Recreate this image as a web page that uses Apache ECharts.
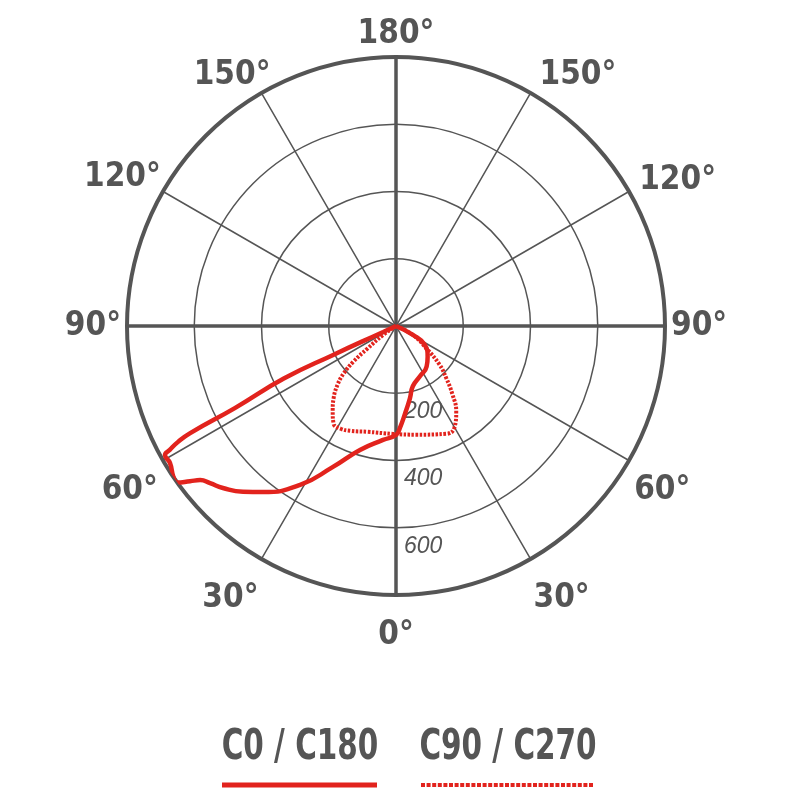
<!DOCTYPE html>
<html>
<head>
<meta charset="utf-8">
<script src="https://cdn.jsdelivr.net/npm/echarts@6/dist/echarts.min.js"></script>
<style>
  html, body { margin: 0; padding: 0; background: #fff; }
  #chart { width: 800px; height: 800px; }
</style>
</head>
<body>
<div id="chart"></div>
<script>
// gamma angle (deg) + intensity, listed along the drawn path
// C0 plane - left half, solid
const c0Gamma = [90, 65.2, 65.3, 64.9, 63.0, 62.5, 62.0, 61.3, 60.8, 58.8, 55.8, 54.4, 53.0, 51.8, 49.8, 46.9, 42.7, 38.7, 31.1, 24.1, 16.2, 6.5, 0];
const c0Intensity = [0, 42, 204, 367, 538, 690, 734, 767, 787, 786, 800, 800, 767, 741, 724, 705, 671, 633, 552, 459, 384, 341, 324];
// C180 plane - right half, solid
const c180Gamma = [2.2, 5.8, 10.9, 15.6, 25.2, 37.1, 45.9, 56.8, 62.1, 90];
const c180Intensity = [303, 263, 219, 186, 166, 151, 131, 102, 57, 0];
// C90 plane - left half, dotted
const c90Gamma = [90, 55.3, 51.6, 50.1, 47.8, 45.0, 40.8, 36.7, 32.5, 28.3, 23.5, 15.2, 1.6];
const c90Intensity = [0, 46, 109, 165, 210, 245, 284, 315, 345, 347, 340, 326, 321];
// C270 plane - right half, dotted
const c270Gamma = [10.8, 25.1, 29.8, 35.3, 39.6, 43.9, 48.4, 53.4, 62.1, 90];
const c270Intensity = [329, 354, 349, 310, 263, 216, 173, 114, 57, 0];

const radiusLabels = [200, 400, 600];
const seriesNames = ['C0 / C180', 'C90 / C270'];

const RED = '#e2231d';
const GREY = '#555555';
const LABEL_FONT = '"Liberation Sans Narrow", "DejaVu Sans Condensed", "Liberation Sans", sans-serif';

// left half keeps gamma, right half is mirrored (360 - gamma)
const leftSide = (g, v) => g.map((a, i) => [v[i], a]);
const rightSide = (g, v) => g.map((a, i) => [v[i], 360 - a]);

const solidData = leftSide(c0Gamma, c0Intensity).concat(rightSide(c180Gamma, c180Intensity));
const dottedData = leftSide(c90Gamma, c90Intensity).concat(rightSide(c270Gamma, c270Intensity));

const chart = echarts.init(document.getElementById('chart'));

const polarCommon = { center: [396, 326], radius: 269 };

// small nudges so the angle labels sit where the original has them
const angleLabelStyle = (padding) => ({
  color: GREY,
  fontFamily: LABEL_FONT,
  fontWeight: 'bold',
  fontSize: 33,
  padding: padding
});
const labelStyleKey = { 0: 'low', 30: 'low', 330: 'low', 60: 'mid', 300: 'mid', 150: 'l150', 210: 'r150', 120: 'l120', 240: 'r120' };

const option = {
  animation: false,
  backgroundColor: '#fff',
  polar: [polarCommon, polarCommon],
  angleAxis: [
    {
      polarIndex: 0,
      type: 'value',
      min: 0,
      max: 360,
      interval: 30,
      startAngle: 270,
      clockwise: true,
      axisLine: { show: true, lineStyle: { color: GREY, width: 4 } },
      axisTick: { show: false },
      splitLine: { show: true, lineStyle: { color: GREY, width: 1.5 } },
      axisLabel: {
        margin: 6,
        color: GREY,
        fontFamily: LABEL_FONT,
        fontWeight: 'bold',
        fontSize: 33,
        formatter: (v) => {
          if (v === 360) return '';
          const t = (v <= 180 ? v : 360 - v) + '°';
          const key = labelStyleKey[v];
          return key ? '{' + key + '|' + t + '}' : t;
        },
        rich: {
          low: angleLabelStyle([18, 0, 0, 0]),
          mid: angleLabelStyle([10, 0, 0, 0]),
          l150: angleLabelStyle([0, -12, -4, 0]),
          r150: angleLabelStyle([0, 0, -4, 6]),
          l120: angleLabelStyle([0, -3, -5, 0]),
          r120: angleLabelStyle([0, 0, -8, 5])
        }
      }
    },
    {
      // heavier cross through the centre
      polarIndex: 1,
      type: 'value',
      min: 0,
      max: 360,
      interval: 90,
      startAngle: 270,
      axisLine: { show: false },
      axisTick: { show: false },
      axisLabel: { show: false },
      splitLine: { show: true, lineStyle: { color: GREY, width: 3.5 } }
    }
  ],
  radiusAxis: [
    {
      polarIndex: 0,
      type: 'value',
      min: 0,
      max: 800,
      interval: 200,
      axisLine: { show: false },
      axisTick: { show: false },
      splitLine: { show: true, lineStyle: { color: GREY, width: 1.5 } },
      axisLabel: {
        color: GREY,
        fontFamily: '"Liberation Sans", Arial, sans-serif',
        fontStyle: 'italic',
        fontSize: 23,
        margin: 8,
        verticalAlign: 'top',
        padding: [7, 0, 0, 0],
        formatter: (v) => radiusLabels.indexOf(v) >= 0 ? String(v) : ''
      }
    },
    {
      polarIndex: 1,
      type: 'value',
      min: 0,
      max: 800,
      show: false
    }
  ],
  series: [
    {
      name: seriesNames[1],
      type: 'line',
      coordinateSystem: 'polar',
      polarIndex: 0,
      data: dottedData,
      showSymbol: false,
      smooth: 0.45,
      lineStyle: { color: RED, width: 4, type: [2.5, 1.5] },
      z: 3
    },
    {
      name: seriesNames[0],
      type: 'line',
      coordinateSystem: 'polar',
      polarIndex: 0,
      data: solidData,
      showSymbol: false,
      smooth: 0.5,
      lineStyle: { color: RED, width: 4.5 },
      z: 4
    }
  ],
  // legend drawn as text over a line sample, like the original
  graphic: [
    {
      type: 'text', x: 300, y: 748, scaleX: 0.78,
      style: { text: seriesNames[0], fill: GREY, font: 'bold 42px ' + LABEL_FONT, align: 'center', verticalAlign: 'middle' }
    },
    {
      type: 'line', shape: { x1: 222, y1: 785, x2: 377, y2: 785 },
      style: { stroke: RED, lineWidth: 5 }
    },
    {
      type: 'text', x: 508, y: 748, scaleX: 0.78,
      style: { text: seriesNames[1], fill: GREY, font: 'bold 42px ' + LABEL_FONT, align: 'center', verticalAlign: 'middle' }
    },
    {
      type: 'line', shape: { x1: 421, y1: 785, x2: 594, y2: 785 },
      style: { stroke: RED, lineWidth: 4, lineDash: [4, 1.6] }
    }
  ]
};

chart.setOption(option);
</script>
</body>
</html>
